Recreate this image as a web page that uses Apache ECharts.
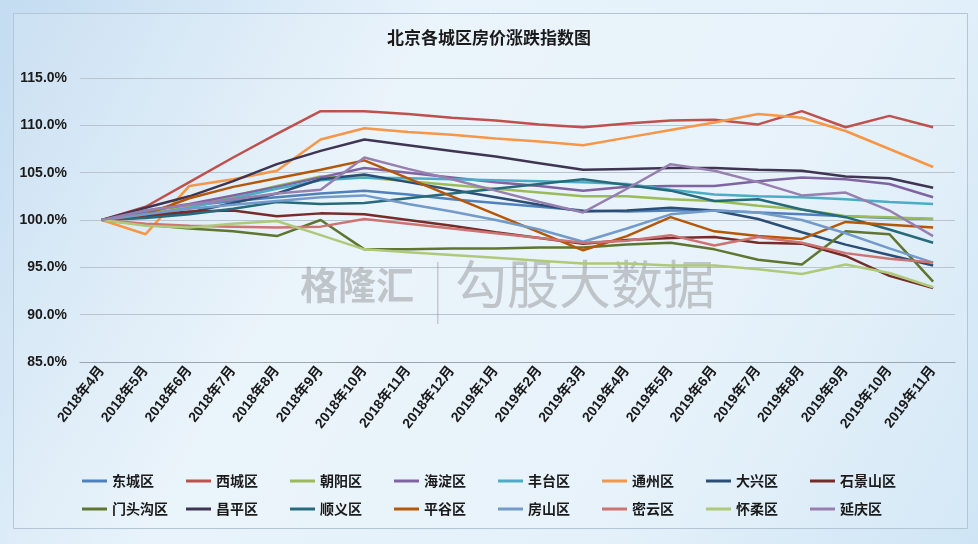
<!DOCTYPE html>
<html>
<head>
<meta charset="utf-8">
</head>
<body style="margin:0;height:100%">
<div id="container" style="width:978px;height:544px"></div>
<script src="https://cdn.jsdelivr.net/npm/echarts@6/dist/echarts.min.js"></script>
<script>
var months = ['2018年4月','2018年5月','2018年6月','2018年7月','2018年8月','2018年9月','2018年10月','2018年11月','2018年12月',
    '2019年1月','2019年2月','2019年3月','2019年4月','2019年5月','2019年6月','2019年7月','2019年8月','2019年9月','2019年10月','2019年11月'];
var yTicks = [85, 115, 5]; // min, max, interval

var names = ['东城区','西城区','朝阳区','海淀区','丰台区','通州区','大兴区','石景山区',
    '门头沟区','昌平区','顺义区','平谷区','房山区','密云区','怀柔区','延庆区'];
var colors = ['#4F81BD','#C0504D','#9BBB59','#8064A2','#4BACC6','#F79646','#2C4D75','#772C2A',
    '#5F7530','#3F3553','#276A7C','#B65708','#729ACA','#CD7371','#AFC97A','#977FB0'];

// 指数(%)
var dongcheng   = [100, 100.8, 101.5, 102.0, 102.4, 102.8, 103.1, 102.7, 102.2, 101.8, 101.4, 101.0, 100.9, 101.0, 101.0, 100.8, 100.6, 100.4, 100.2, 100.1];
var xicheng     = [100, 101.4, 104.0, 106.6, 109.1, 111.5, 111.5, 111.2, 110.8, 110.5, 110.1, 109.8, 110.2, 110.5, 110.6, 110.1, 111.5, 109.8, 111.0, 109.8];
var chaoyang    = [100, 100.6, 101.4, 102.5, 103.6, 104.6, 104.5, 104.1, 103.7, 103.3, 102.9, 102.5, 102.5, 102.2, 102.0, 101.5, 101.1, 100.4, 100.3, 100.1];
var haidian     = [100, 101.0, 101.7, 102.6, 103.5, 104.5, 105.5, 105.0, 104.5, 104.0, 103.6, 103.1, 103.5, 103.6, 103.6, 104.1, 104.5, 104.3, 103.8, 102.4];
var fengtai     = [100, 100.5, 101.3, 102.3, 103.3, 104.2, 104.5, 104.4, 104.3, 104.2, 104.1, 104.0, 103.8, 103.2, 102.7, 102.5, 102.4, 102.2, 101.9, 101.7];
var tongzhou    = [100, 98.5, 103.6, 104.3, 105.2, 108.5, 109.7, 109.3, 109.0, 108.6, 108.3, 107.9, 108.7, 109.5, 110.3, 111.2, 110.8, 109.4, 107.5, 105.6];
var daxing      = [100, 100.3, 100.8, 101.8, 102.8, 104.3, 104.8, 104.0, 103.2, 102.4, 101.6, 100.9, 101.0, 101.3, 101.0, 100.1, 98.7, 97.4, 96.3, 95.2];
var shijingshan = [100, 100.5, 100.9, 101.0, 100.4, 100.7, 100.6, 100.0, 99.4, 98.7, 98.1, 97.5, 97.9, 98.1, 98.2, 97.6, 97.5, 96.2, 94.1, 92.8];
var mentougou   = [100, 99.5, 99.1, 98.8, 98.3, 100.0, 96.9, 96.9, 97.0, 97.0, 97.1, 97.1, 97.4, 97.6, 96.9, 95.8, 95.3, 98.8, 98.5, 93.5];
var changping   = [100, 101.3, 102.5, 104.1, 105.9, 107.3, 108.5, 107.9, 107.3, 106.7, 106.0, 105.3, 105.4, 105.5, 105.5, 105.3, 105.2, 104.6, 104.4, 103.4];
var shunyi      = [100, 100.2, 100.6, 101.2, 101.9, 101.7, 101.8, 102.3, 102.8, 103.3, 103.8, 104.3, 103.7, 103.1, 102.0, 102.2, 101.1, 100.3, 99.0, 97.6];
var pinggu      = [100, 100.6, 102.3, 103.5, 104.4, 105.3, 106.3, 104.4, 102.5, 100.6, 98.7, 96.8, 98.3, 100.3, 98.8, 98.3, 98.0, 99.8, 99.5, 99.2];
var fangshan    = [100, 100.6, 101.2, 101.6, 102.0, 102.4, 102.6, 101.7, 100.9, 100.0, 99.0, 97.7, 99.1, 100.6, 101.0, 100.8, 100.0, 98.6, 97.0, 95.5];
var miyun       = [100, 99.6, 99.4, 99.3, 99.2, 99.3, 100.1, 99.6, 99.1, 98.6, 98.1, 97.6, 97.8, 98.4, 97.3, 98.2, 97.6, 96.5, 95.9, 95.5];
var huairou     = [100, 99.4, 99.2, 99.6, 99.9, 98.4, 96.9, 96.6, 96.3, 96.0, 95.7, 95.4, 95.4, 95.2, 95.2, 94.8, 94.3, 95.3, 94.4, 92.9];
var yanqing     = [100, 101.0, 101.6, 102.2, 102.8, 103.2, 106.6, 105.4, 104.3, 103.1, 101.9, 100.8, 103.3, 105.9, 105.2, 104.0, 102.6, 102.9, 101.0, 98.3];

var values = [dongcheng, xicheng, chaoyang, haidian, fengtai, tongzhou, daxing, shijingshan,
    mentougou, changping, shunyi, pinggu, fangshan, miyun, huairou, yanqing];

var myChart = echarts.init(document.getElementById('container'));

var series = names.map(function (n, i) {
    return {
        name: n,
        type: 'line',
        data: values[i],
        symbol: 'none',
        lineStyle: {width: 2.5, color: colors[i]},
        itemStyle: {color: colors[i]},
        z: 3
    };
});

function legendRow(list, top) {
    return {
        data: list,
        left: 77,
        top: top,
        icon: 'rect',
        itemWidth: 25,
        itemHeight: 3,
        itemGap: 7,
        textStyle: {
            width: 67,
            lineHeight: 20,
            fontSize: 14,
            fontWeight: 'bold',
            color: '#1a1a1a',
            fontFamily: 'Noto Sans CJK SC'
        }
    };
}

var option = {
    backgroundColor: {
        type: 'linear', x: 0, y: 0, x2: 1, y2: 1,
        colorStops: [
            {offset: 0, color: '#c3dcf1'},
            {offset: 0.35, color: '#e8f3fb'},
            {offset: 0.7, color: '#e4f1fa'},
            {offset: 1, color: '#cfe5f5'}
        ]
    },
    color: colors,
    animation: false,
    title: {
        text: '北京各城区房价涨跌指数图',
        left: 'center',
        top: 24,
        textStyle: {fontSize: 17, fontWeight: 'bold', color: '#1a1a1a', fontFamily: 'Noto Sans CJK SC'}
    },
    graphic: [
        {
            type: 'rect', left: 13, top: 13, z: -1,
            shape: {width: 954, height: 515},
            style: {fill: 'rgba(255,255,255,0.12)', stroke: '#b4c6d6', lineWidth: 1}
        },
        {
            type: 'text', left: 300, top: 266, z: 1,
            style: {text: '格隆汇', fontSize: 38, fontWeight: 'bold', fill: 'rgba(140,140,140,0.45)', fontFamily: 'Noto Sans CJK SC'}
        },
        {
            type: 'rect', left: 437, top: 262, z: 1,
            shape: {width: 1.5, height: 62},
            style: {fill: 'rgba(140,140,140,0.4)'}
        },
        {
            type: 'text', left: 455, top: 258, z: 1,
            style: {text: '勾股大数据', fontSize: 52, fill: 'rgba(140,140,140,0.45)', fontFamily: 'Noto Sans CJK SC'}
        }
    ],
    legend: [
        legendRow(names.slice(0, 8), 466),
        legendRow(names.slice(8), 494)
    ],
    grid: {left: 80, right: 23, top: 78, bottom: 182},
    xAxis: {
        type: 'category',
        data: months,
        boundaryGap: true,
        axisLine: {lineStyle: {color: '#9aa6b2'}},
        axisTick: {lineStyle: {color: '#9aa6b2'}, length: 5},
        axisLabel: {
            interval: 0,
            rotate: 52,
            margin: 6,
            fontSize: 14,
            fontWeight: 'bold',
            color: '#1a1a1a',
            fontFamily: 'Liberation Sans, Noto Sans CJK SC'
        }
    },
    yAxis: {
        type: 'value',
        min: yTicks[0],
        max: yTicks[1],
        interval: yTicks[2],
        axisLine: {show: false},
        axisTick: {show: false},
        splitLine: {lineStyle: {color: '#b9c4ce', width: 1}},
        axisLabel: {
            margin: 13,
            fontSize: 14,
            fontWeight: 'bold',
            color: '#1a1a1a',
            fontFamily: 'Liberation Sans',
            formatter: function (v) { return v.toFixed(1) + '%'; }
        }
    },
    series: series
};

myChart.setOption(option);
</script>
</body>
</html>
